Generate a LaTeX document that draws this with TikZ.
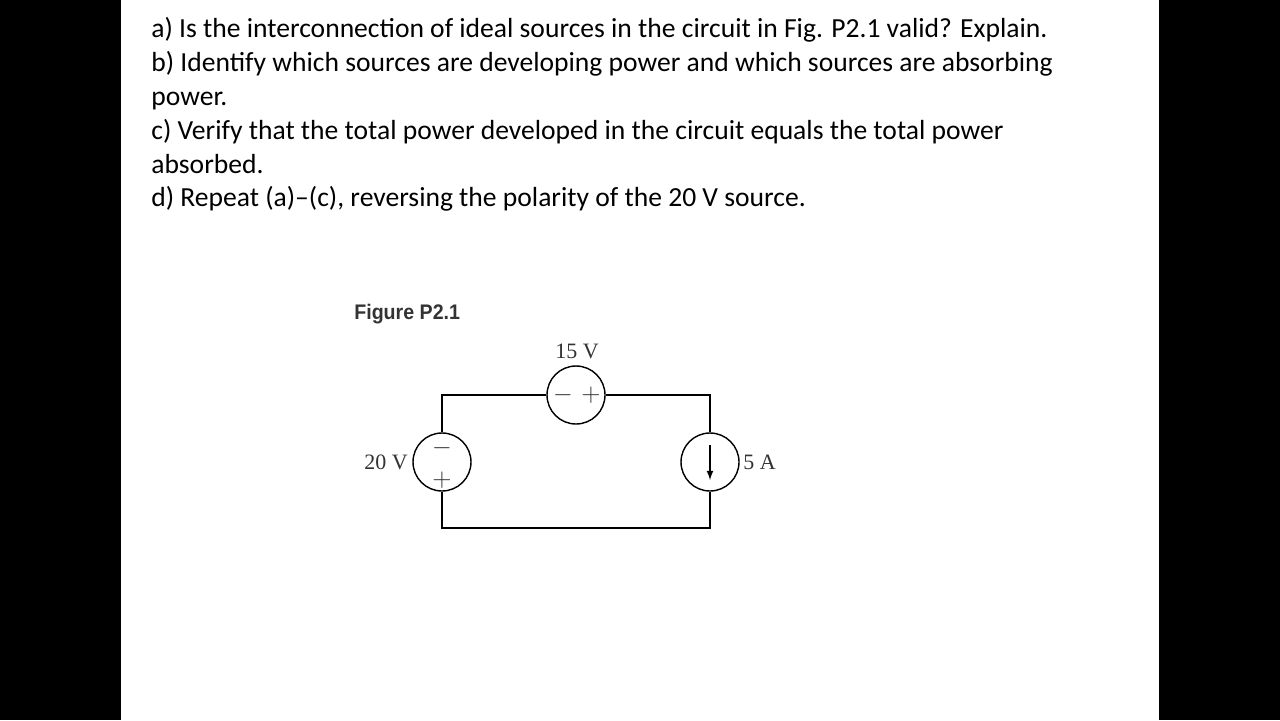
\documentclass[tikz,border=0pt]{standalone}
\usepackage{fontspec}
\setmainfont{Liberation Serif}
\newfontfamily\qfont{Carlito}
\newfontfamily\figfont{Liberation Sans}
\usetikzlibrary{positioning}
\tikzstyle{src}=[circle,draw=black,thick,minimum size=1.16cm,inner sep=0pt]
\tikzstyle{qline}=[anchor=base west,inner sep=0pt,font=\qfont\fontsize{15.7}{15.7}\selectfont]
\tikzstyle{lbl}=[inner sep=0pt,font=\fontsize{12.5}{12.5}\selectfont,text=black!80]
\tikzstyle{sgn}=[inner sep=0pt,font=\fontsize{15}{15}\selectfont,text=black!80]
\begin{document}
\begin{tikzpicture}[x=0.02cm,y=-0.02cm]
	\fill[black] (0,0) rectangle (1280,720);
	\fill[white] (121,0) rectangle (1159,720);
	\node[qline] (qa) at (151,37) {a) Is the interconnection of ideal sources in the circuit in Fig. P2.1 valid? Explain.};
	\node[qline] (qb) at (151,71) {b) Identify which sources are developing power and which sources are absorbing};
	\node[qline] (qb2) at (151,105) {power.};
	\node[qline] (qc) at (151,139) {c) Verify that the total power developed in the circuit equals the total power};
	\node[qline] (qc2) at (151,173) {absorbed.};
	\node[qline] (qd) at (151,206) {d) Repeat (a)\textendash(c), reversing the polarity of the 20 V source.};
	\node[anchor=west,inner sep=0pt,font=\figfont\bfseries\fontsize{12}{12}\selectfont,text=black!80,xscale=0.93] (fig) at (354,314) {Figure P2.1};
	% circuit
	\coordinate (tl) at (442,395);
	\coordinate (tr) at (710,395);
	\coordinate (bl) at (442,528);
	\coordinate (br) at (710,528);
	\node[src] (vt) at (576,395) {};
	\node[src] (vl) at (442,462) {};
	\node[src] (ia) at (710,462) {};
	\draw[thick] (vl.north) -- (tl) -- (vt.west);
	\draw[thick] (vt.east) -- (tr) -- (ia.north);
	\draw[thick] (ia.south) -- (br) -- (bl) -- (vl.south);
	\node[sgn] at (563,395) {$-$};
	\node[sgn] at (591,395) {$+$};
	\node[sgn] at (442,448) {$-$};
	\node[sgn] at (442,480) {$+$};
	\draw[thick,-latex] (710,445) -- (710,480);
	\node[lbl] (l15) at (577,351) {15 V};
	\node[lbl,anchor=east] (l20) at (408,462) {20 V};
	\node[lbl,anchor=west] (l5) at (743,462) {5 A};
\end{tikzpicture}
\end{document}
